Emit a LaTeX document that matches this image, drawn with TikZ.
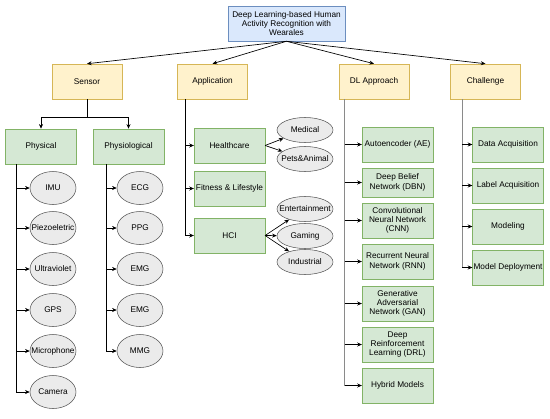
\documentclass[tikz,border=0pt]{standalone}
\usepackage{fontspec}
\setmainfont{Liberation Sans}
\usetikzlibrary{arrows.meta,shapes.geometric,calc}
\definecolor{tfill}{HTML}{DAE8FC}
\definecolor{tdraw}{HTML}{6C8EBF}
\definecolor{yfill}{HTML}{FFF2CC}
\definecolor{ydraw}{HTML}{D6B656}
\definecolor{gfill}{HTML}{D5E8D4}
\definecolor{gdraw}{HTML}{82B366}
\definecolor{ofill}{HTML}{EBEBEB}
\definecolor{odraw}{HTML}{555555}
\definecolor{trunkgray}{HTML}{8A8A8A}
\begin{document}
\begin{tikzpicture}[x=0.75pt,y=-0.75pt,
  every node/.style={font=\fontsize{6.2}{7}\selectfont},
  titlebox/.style={rectangle,draw=tdraw,fill=tfill,minimum width=87.75pt,minimum height=26.25pt,align=center,inner sep=1pt},
  catbox/.style={rectangle,draw=ydraw,fill=yfill,minimum width=52.5pt,minimum height=26.25pt,inner sep=1pt},
  leafbox/.style={rectangle,draw=gdraw,fill=gfill,minimum width=53pt,minimum height=26.25pt,align=center,inner xsep=0pt,inner ysep=1pt},
  oval/.style={ellipse,draw=odraw,fill=ofill,minimum width=34.5pt,minimum height=24.75pt,inner sep=0pt},
  soval/.style={ellipse,draw=odraw,fill=ofill,minimum width=42pt,minimum height=18.75pt,inner sep=0pt},
  arr/.style={-{Stealth[length=3.5pt,width=3pt]},draw=black,line width=0.5pt},
  ln/.style={draw=black,line width=0.5pt},
  trunk/.style={draw=trunkgray,line width=1pt}]
\useasboundingbox (0,0) rectangle (550,418);

% title and categories
\node[titlebox] (title) at (286.5,23.5) {Deep Learning-based Human\\Activity Recognition with\\Wearales};
\node[catbox] (sensor) at (87,81.5) {Sensor};
\node[catbox] (app) at (212.5,81.5) {Application};
\node[catbox] (dl) at (374,81.5) {DL Approach};
\node[catbox] (chal) at (485.5,81.5) {Challenge};
\foreach \n in {sensor,app,dl,chal} \draw[arr] (title.south) -- (\n.north);

% Sensor
\node[leafbox] (physical) at (41,146.5) {Physical};
\node[leafbox] (physio) at (128.5,146.5) {Physiological};
\coordinate (sj) at (87,117);
\draw[ln] (sensor.south) -- (sj);
\draw[arr] (sj) -| (physical.north);
\draw[arr] (sj) -| (physio.north);

\node[oval,label=center:IMU] (imu) at (53,188) {};
\node[oval,label=center:Piezoeletric] (piezo) at (53,228) {};
\node[oval,label=center:Ultraviolet] (ultra) at (53,269) {};
\node[oval,label=center:GPS] (gps) at (53,310) {};
\node[oval,label=center:Microphone] (mic) at (53,351) {};
\node[oval,label=center:Camera] (cam) at (53,392) {};
\coordinate (pt) at ($(physical.south west)+(11,0)$);
\draw[arr] (pt) |- (cam.west);
\foreach \n in {imu,piezo,ultra,gps,mic} \draw[arr] (pt |- \n.west) -- (\n.west);

\node[oval,label=center:ECG] (ecg) at (140,188) {};
\node[oval,label=center:PPG] (ppg) at (140,228) {};
\node[oval,label=center:EMG] (emga) at (140,269) {};
\node[oval,label=center:EMG] (emgb) at (140,310) {};
\node[oval,label=center:MMG] (mmg) at (140,351) {};
\coordinate (pp) at ($(physio.south west)+(13,0)$);
\draw[arr] (pp) |- (mmg.west);
\foreach \n in {ecg,ppg,emga,emgb} \draw[arr] (pp |- \n.west) -- (\n.west);

% Application
\node[leafbox] (health) at (229.5,145.5) {Healthcare};
\node[leafbox] (fit) at (229.5,188.5) {Fitness \& Lifestyle};
\node[leafbox] (hci) at (229.5,235.5) {HCI};
\coordinate (at) at ($(app.south west)+(8,0)$);
\draw[arr] (at) |- (hci.west);
\foreach \n in {health,fit} \draw[arr] (at |- \n.west) -- (\n.west);

\node[soval,label=center:Medical] (medical) at (305,130) {};
\node[soval,label=center:Pets\&Animal] (pets) at (305,159) {};
\node[soval,label=center:Entertainment] (ent) at (305,209) {};
\node[soval,label=center:Gaming] (gaming) at (305,236) {};
\node[soval,label=center:Industrial] (indus) at (305,262) {};
\foreach \n in {medical,pets} \draw[arr] (health.east) -- (\n);
\foreach \n in {ent,gaming,indus} \draw[arr] (hci.east) -- (\n);

% DL Approach
\node[leafbox] (ae) at (397.5,144.5) {Autoencoder (AE)};
\node[leafbox,minimum height=21.75pt] (dbn) at (397.5,182.5) {Deep Belief\\Network (DBN)};
\node[leafbox] (cnn) at (397.5,220.5) {Convolutional\\Neural Network\\(CNN)};
\node[leafbox] (rnn) at (397.5,261.5) {Recurrent Neural\\Network (RNN)};
\node[leafbox] (gan) at (397.5,303.5) {Generative\\Adversarial\\Network (GAN)};
\node[leafbox] (drl) at (397.5,344.5) {Deep\\Reinforcement\\Learning (DRL)};
\node[leafbox] (hyb) at (397.5,385.5) {Hybrid Models};
\coordinate (dt) at ($(dl.south west)+(6,0)$);
\draw[trunk] (dt) -- (dt |- hyb.west);
\foreach \n in {ae,dbn,cnn,rnn,gan,drl,hyb} \draw[arr] (dt |- \n.west) -- (\n.west);

% Challenge
\node[leafbox] (data) at (508,144.5) {Data Acquisition};
\node[leafbox] (label) at (508,185.5) {Label Acquisition};
\node[leafbox] (model) at (508,226.5) {Modeling};
\node[leafbox] (deploy) at (508,267.5) {Model Deployment};
\coordinate (ct) at ($(chal.south west)+(12,0)$);
\draw[trunk] (ct) -- (ct |- deploy.west);
\foreach \n in {data,label,model,deploy} \draw[arr] (ct |- \n.west) -- (\n.west);
\end{tikzpicture}
\end{document}
